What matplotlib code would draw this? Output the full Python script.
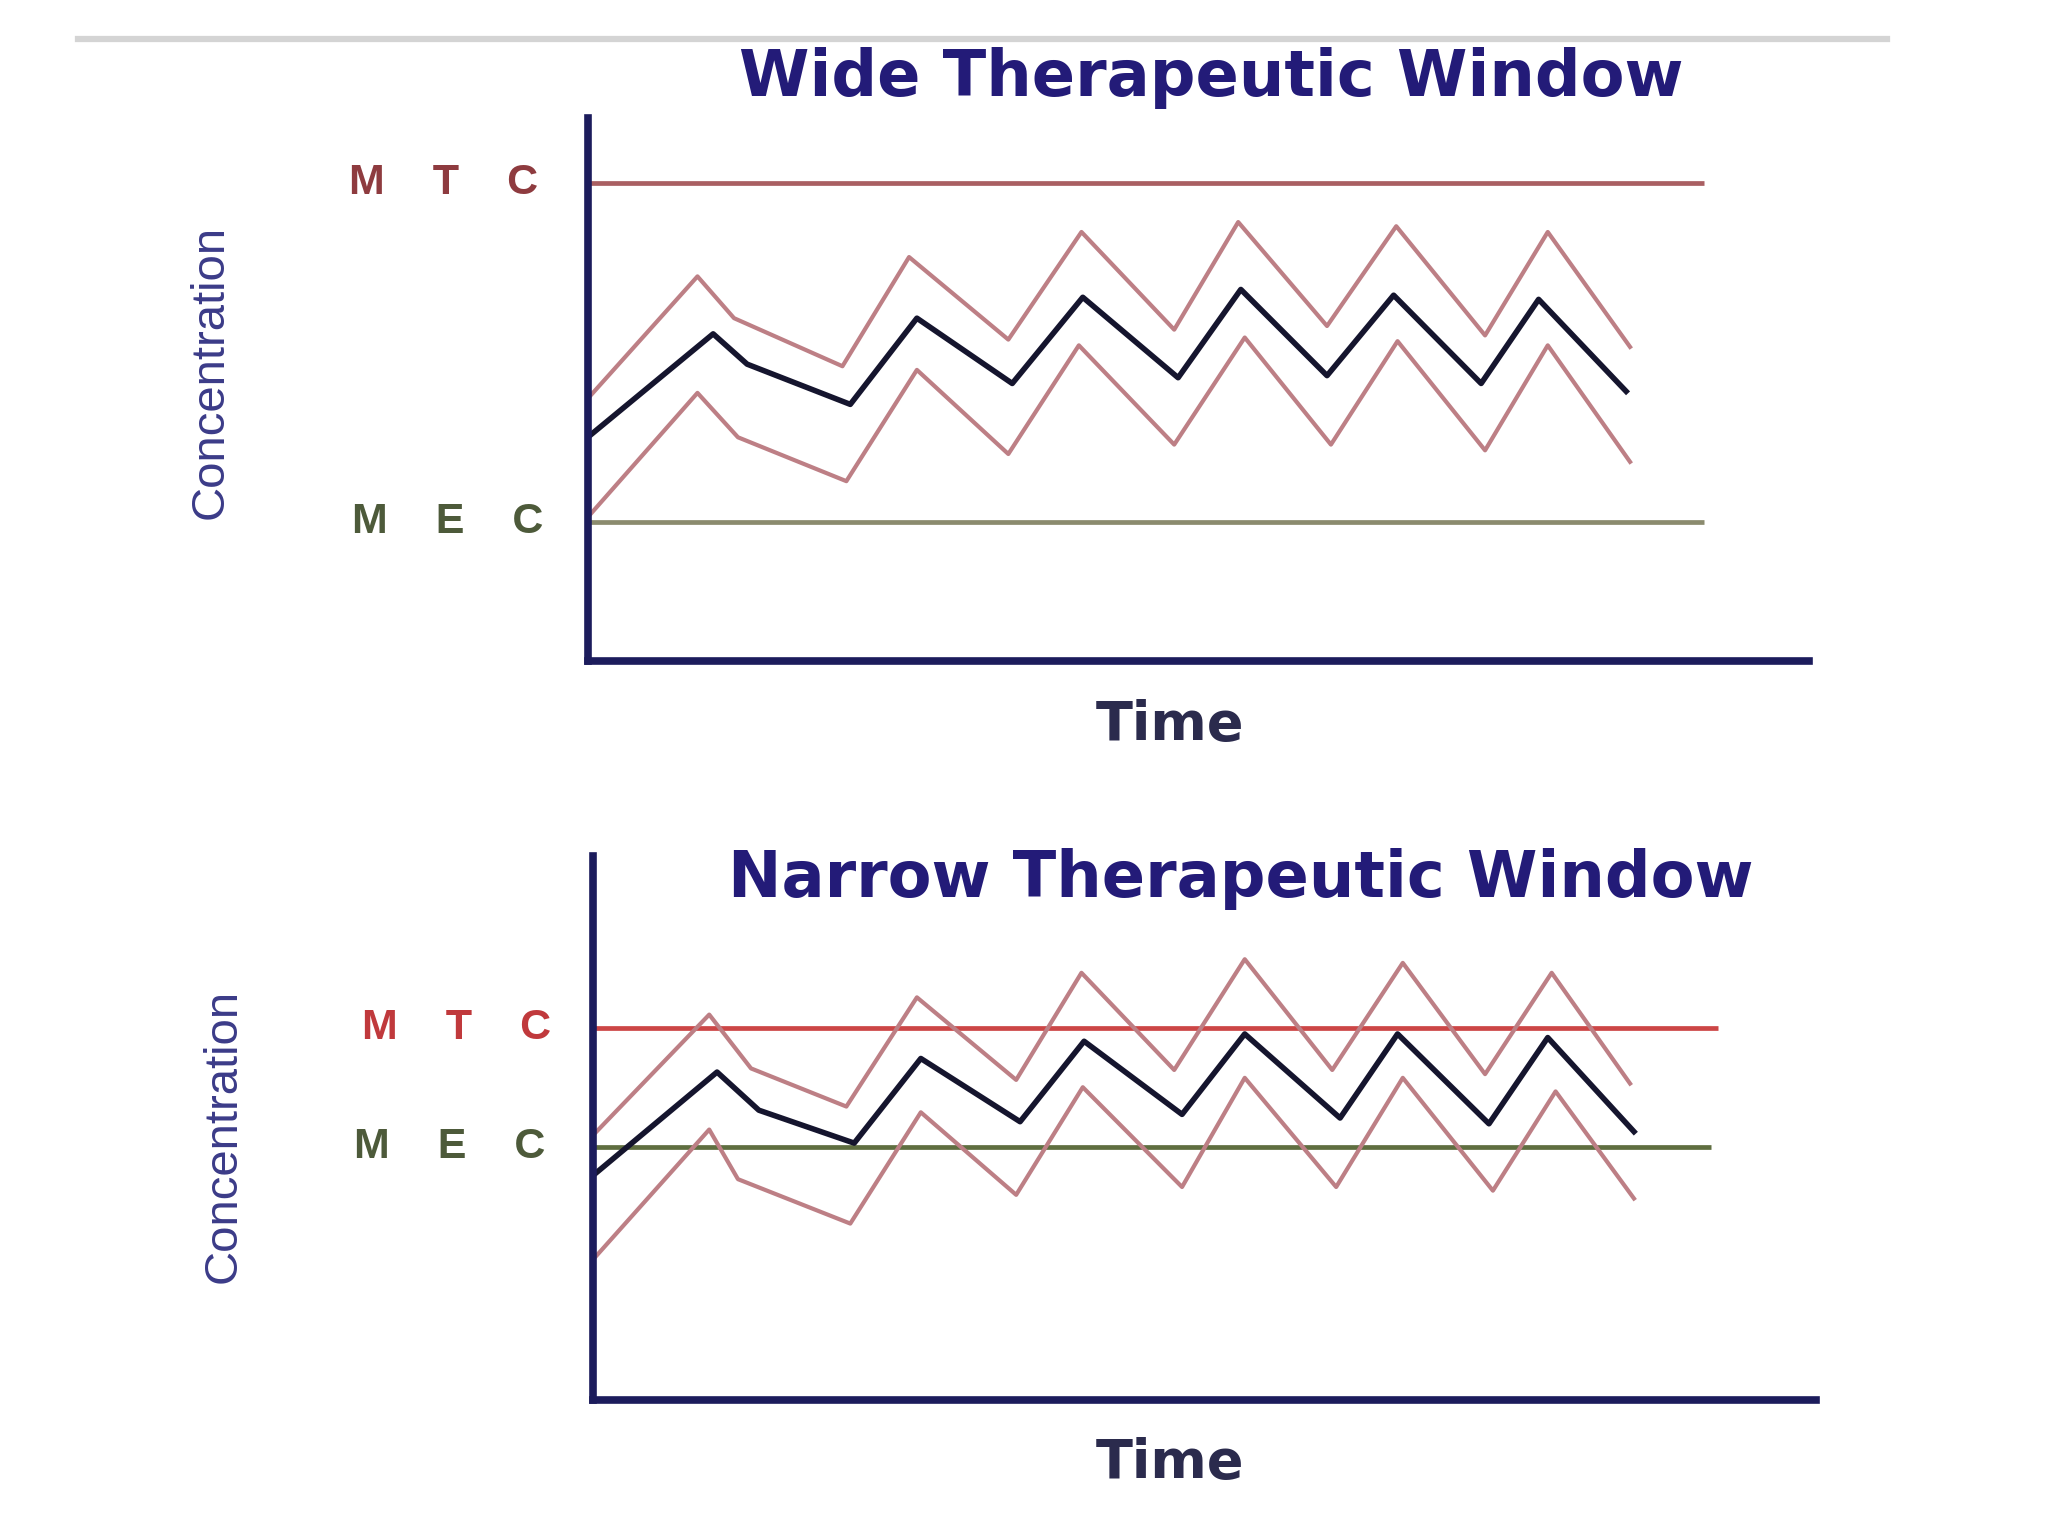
import matplotlib
matplotlib.use("Agg")
import matplotlib.pyplot as plt
from matplotlib.lines import Line2D
from matplotlib import font_manager
import matplotlib.transforms as mtransforms

# --- data (time in arbitrary units, concentration in arbitrary units) ---
wide_upper_t = [0, 8.4, 11.2, 19.5, 24.6, 32.2, 37.8, 44.9, 49.8, 56.6, 61.9, 68.7, 73.5, 79.8]
wide_upper_c = [50.2, 73.6, 65.6, 56.4, 77.3, 61.5, 82.1, 63.4, 84.0, 64.1, 83.2, 62.3, 82.1, 60.1]
wide_mid_t = [0, 9.6, 12.2, 20.1, 25.2, 32.5, 37.9, 45.2, 50.0, 56.6, 61.7, 68.4, 72.8, 79.5]
wide_mid_c = [42.8, 62.6, 56.8, 49.1, 65.6, 53.1, 69.6, 54.2, 71.1, 54.6, 70.0, 53.1, 69.2, 51.6]
wide_lower_t = [0, 8.4, 11.5, 19.8, 25.2, 32.2, 37.6, 44.9, 50.3, 56.9, 62.0, 68.7, 73.5, 79.8]
wide_lower_c = [27.5, 51.3, 42.8, 34.4, 55.7, 39.6, 60.4, 41.4, 61.9, 41.4, 61.2, 40.3, 60.4, 38.1]
wide_mtc = 91.5
wide_mec = 26.5

narrow_upper_t = [0, 8.9, 12.1, 19.4, 24.8, 32.4, 37.4, 44.5, 49.9, 56.6, 62.0, 68.3, 73.4, 79.4]
narrow_upper_c = [50.7, 73.8, 63.5, 56.2, 77.1, 61.3, 81.8, 63.2, 84.4, 63.2, 83.7, 62.4, 81.8, 60.6]
narrow_mid_t = [0, 9.5, 12.7, 20.0, 25.1, 32.7, 37.6, 45.1, 49.9, 57.2, 61.6, 68.6, 73.1, 79.7]
narrow_mid_c = [43.0, 62.8, 55.5, 49.2, 65.4, 53.3, 68.7, 54.7, 70.1, 54.0, 70.1, 52.9, 69.4, 51.4]
narrow_lower_t = [0, 8.9, 11.1, 19.7, 25.1, 32.4, 37.5, 45.1, 49.9, 56.9, 62.0, 68.9, 73.7, 79.7]
narrow_lower_c = [26.9, 51.8, 42.3, 33.8, 55.1, 39.3, 59.9, 40.8, 61.7, 40.8, 61.7, 40.1, 59.1, 38.6]
narrow_mtc = 71.25
narrow_mec = 48.5

titles = ["Wide Therapeutic Window", "Narrow Therapeutic Window"]

# pick a narrow font for the rotated axis label if one is installed
names = {f.name for f in font_manager.fontManager.ttflist}
narrow_font = "Liberation Sans Narrow" if "Liberation Sans Narrow" in names else "Liberation Sans"
conc_size = 40 if narrow_font == "Liberation Sans Narrow" else 34

NAVY = "#1c1c5c"
PINK = "#bd7f85"
DARK = "#15152e"


def draw_panel(ax, upper, mid, lower, mtc, mec, mtc_end, mec_end, mtc_color, mec_color,
               mtc_lbl_color, mtc_lbl_x, mec_lbl_x):
    ax.plot([0, mtc_end], [mtc, mtc], color=mtc_color, lw=3.4, solid_capstyle='butt')
    ax.plot([0, mec_end], [mec, mec], color=mec_color, lw=3.4, solid_capstyle='butt')
    ax.plot(upper[0], upper[1], color=PINK, lw=3)
    ax.plot(lower[0], lower[1], color=PINK, lw=3)
    ax.plot(mid[0], mid[1], color=DARK, lw=4)

    for s in ['top', 'right']:
        ax.spines[s].set_visible(False)
    for s in ['left', 'bottom']:
        ax.spines[s].set_color(NAVY)
        ax.spines[s].set_linewidth(5.5)
    ax.set_xticks([])
    ax.set_yticks([])
    ax.patch.set_alpha(0)

    trans = mtransforms.blended_transform_factory(ax.transAxes, ax.transData)
    ax.text(mtc_lbl_x, mtc, "M    T    C", transform=trans, ha='right', va='center',
            fontsize=31, fontweight='bold', color=mtc_lbl_color, family='Liberation Sans')
    ax.text(mec_lbl_x, mec, "M    E    C", transform=trans, ha='right', va='center',
            fontsize=31, fontweight='bold', color="#4d5a3a", family='Liberation Sans')


fig = plt.figure(figsize=(20.48, 15.36), dpi=100)
fig.patch.set_facecolor('white')

W, H = 1568.0, 1176.0

# top panel
ax1 = fig.add_axes([450 / W, 1 - 506 / H, 935 / W, 416 / H])
ax1.set_xlim(0, 93.5)
ax1.set_ylim(0, 104)
draw_panel(ax1, (wide_upper_t, wide_upper_c), (wide_mid_t, wide_mid_c), (wide_lower_t, wide_lower_c),
           wide_mtc, wide_mec, 85.5, 85.5, "#a95f62", "#8b8b6e", "#8e3b3f", -0.041, -0.036)

# bottom panel
ax2 = fig.add_axes([454 / W, 1 - 1072 / H, 936 / W, 417 / H])
ax2.set_xlim(0, 93.6)
ax2.set_ylim(0, 104.25)
draw_panel(ax2, (narrow_upper_t, narrow_upper_c), (narrow_mid_t, narrow_mid_c), (narrow_lower_t, narrow_lower_c),
           narrow_mtc, narrow_mec, 86.1, 85.6, "#cc4646", "#5f6e40", "#c0393c", -0.034, -0.039)

# titles
fig.text(927 / W, 1 - 60 / H, titles[0], ha='center', va='center', fontsize=46,
         fontweight='bold', color="#231b78", family='DejaVu Sans')
fig.text(950 / W, 1 - 673 / H, titles[1], ha='center', va='center', fontsize=46,
         fontweight='bold', color="#231b78", family='DejaVu Sans')

# axis labels
for y in [555, 1120]:
    fig.text(896 / W, 1 - y / H, "Time", ha='center', va='center', fontsize=39,
             fontweight='bold', color="#2b2b4d", family='DejaVu Sans')
fig.text(161 / W, 1 - 285 / H, "Concentration", rotation=90, ha='center', va='center',
         fontsize=conc_size, color="#3b3b88", family=narrow_font)
fig.text(171 / W, 1 - 870 / H, "Concentration", rotation=90, ha='center', va='center',
         fontsize=conc_size, color="#3b3b88", family=narrow_font)

# grey rule at the top
fig.add_artist(Line2D([60 / W, 1445 / W], [1 - 30 / H, 1 - 30 / H], transform=fig.transFigure,
                      color="#d4d4d4", lw=4.5))

fig.savefig("out.png", dpi=100)
